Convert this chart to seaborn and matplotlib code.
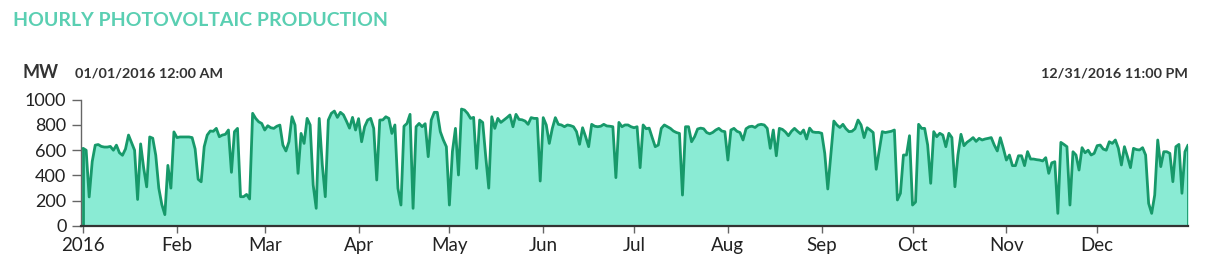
import numpy as np
import pandas as pd
import matplotlib
matplotlib.use("Agg")
import matplotlib.pyplot as plt
import matplotlib.dates as mdates
import seaborn as sns

# Daily peak photovoltaic production (MW), 2016, one list per month
jan = [615, 600, 230, 510, 640, 645, 630, 625, 625, 630, 600, 640, 580, 560, 610, 720,
       660, 600, 210, 650, 460, 310, 705, 695, 560, 300, 170, 90, 480, 300, 745]
feb = [700, 705, 705, 705, 705, 700, 610, 370, 350, 628, 720, 752, 750, 773, 707, 720,
       726, 760, 425, 747, 773, 232, 232, 250, 214, 892, 852, 825, 812]
mar = [760, 794, 778, 773, 790, 799, 641, 594, 667, 865, 799, 417, 733, 654, 852, 800,
       325, 140, 852, 488, 232, 839, 892, 910, 860, 900, 880, 830, 775, 860, 760]
apr = [850, 667, 786, 839, 852, 773, 364, 839, 840, 865, 852, 733, 800, 298, 166, 790,
       812, 884, 140, 786, 812, 786, 810, 549, 839, 900, 900, 747, 681, 628]
may = [166, 590, 773, 404, 926, 918, 892, 852, 860, 456, 839, 820, 550, 300, 865, 773,
       852, 820, 839, 858, 879, 786, 884, 844, 841, 831, 805, 858, 852, 852, 356]
jun = [858, 800, 654, 773, 858, 805, 800, 786, 800, 795, 786, 747, 647, 778, 707, 628,
       805, 790, 786, 790, 805, 792, 790, 786, 383, 820, 786, 800, 800, 786]
jul = [778, 786, 462, 800, 770, 775, 700, 628, 641, 773, 800, 786, 773, 752, 740, 733,
       245, 786, 786, 667, 707, 768, 775, 770, 740, 730, 741, 760, 773, 752, 747]
aug = [522, 760, 773, 750, 740, 681, 770, 786, 790, 780, 800, 805, 800, 773, 615, 760,
       556, 773, 765, 745, 715, 750, 773, 750, 730, 760, 689, 775, 745, 741, 741]
sep = [734, 575, 293, 562, 831, 800, 780, 805, 770, 747, 750, 770, 839, 800, 700, 778,
       760, 740, 449, 598, 747, 740, 745, 750, 760, 206, 259, 562, 562, 715]
oct_ = [166, 190, 805, 773, 773, 641, 338, 747, 707, 734, 720, 628, 734, 700, 311, 562,
        726, 636, 663, 680, 700, 670, 694, 681, 689, 694, 700, 641, 594, 699, 615]
nov = [522, 562, 478, 478, 556, 556, 478, 589, 530, 530, 525, 522, 515, 541, 417, 500,
       509, 100, 662, 646, 628, 166, 588, 562, 443, 620, 580, 600, 562, 575]
dec = [636, 641, 609, 600, 667, 654, 681, 615, 483, 628, 549, 462, 615, 605, 602, 620,
       562, 179, 100, 245, 681, 470, 588, 588, 575, 351, 628, 646, 259, 588, 641]

month_labels = ["2016", "Feb", "Mar", "Apr", "May", "Jun", "Jul", "Aug", "Sep", "Oct", "Nov", "Dec"]
y_ticks = [0, 200, 400, 600, 800, 1000]
title = "HOURLY PHOTOVOLTAIC PRODUCTION"
unit = "MW"
start_label = "01/01/2016 12:00 AM"
end_label = "12/31/2016 11:00 PM"

values = jan + feb + mar + apr + may + jun + jul + aug + sep + oct_ + nov + dec
dates = pd.date_range("2016-01-01", periods=len(values), freq="D")
df = pd.DataFrame({"date": dates, "mw": values})

sns.set_theme(style="white")
plt.rcParams["font.family"] = ["Lato", "DejaVu Sans"]

W, H = 1206, 279
fig = plt.figure(figsize=(W / 100, H / 100), dpi=100)
ax = fig.add_axes([81 / W, 1 - 226 / H, (1188 - 81) / W, (226 - 99.7) / H])

line_c = "#17996a"
fill_c = "#8aebd4"

ax.fill_between(df["date"], 0, df["mw"], color=fill_c, linewidth=0, zorder=1)
sns.lineplot(data=df, x="date", y="mw", ax=ax, color=line_c, linewidth=2.0, zorder=3)
ax.vlines([df["date"].iloc[0], df["date"].iloc[-1]], 0, [df["mw"].iloc[0], df["mw"].iloc[-1]],
          color=line_c, linewidth=2.0, zorder=3)

ax.set_xlim(dates[0] - pd.Timedelta(days=0.7), dates[-1])
ax.set_ylim(0, 1000)
ax.set_xlabel("")
ax.set_ylabel("")

ax.set_yticks(y_ticks)
ax.set_yticklabels([str(v) for v in y_ticks])
month_starts = pd.date_range("2016-01-01", periods=12, freq="MS")
ax.set_xticks(month_starts)
ax.set_xticklabels(month_labels)

for s in ["top", "right"]:
    ax.spines[s].set_visible(False)
ax.spines["left"].set_color("#666666")
ax.spines["left"].set_linewidth(1.0)
ax.spines["bottom"].set_color("#333333")
ax.spines["bottom"].set_linewidth(1.6)
ax.spines["bottom"].set_zorder(5)

ax.tick_params(axis="y", which="major", length=6.5, width=1, color="#666666",
               pad=4, labelsize=13, labelcolor="#222222", left=True)
ax.tick_params(axis="x", which="major", length=5, width=1, color="#666666",
               pad=3, labelsize=13.5, labelcolor="#222222", bottom=True)
ax.grid(False)

fig.text(13 / W, 1 - 21 / H, title, color="#5acfb2", fontsize=14, fontweight="bold",
         va="center", ha="left")
fig.text(23 / W, 1 - 72 / H, unit, color="#333333", fontsize=13, fontweight="bold",
         va="center", ha="left")
fig.text(75 / W, 1 - 73 / H, start_label, color="#333333", fontsize=10.4, fontweight="bold",
         va="center", ha="left")
fig.text(1188 / W, 1 - 73 / H, end_label, color="#333333", fontsize=10.4, fontweight="bold",
         va="center", ha="right")

fig.savefig("out.png", dpi=100, facecolor="white")
